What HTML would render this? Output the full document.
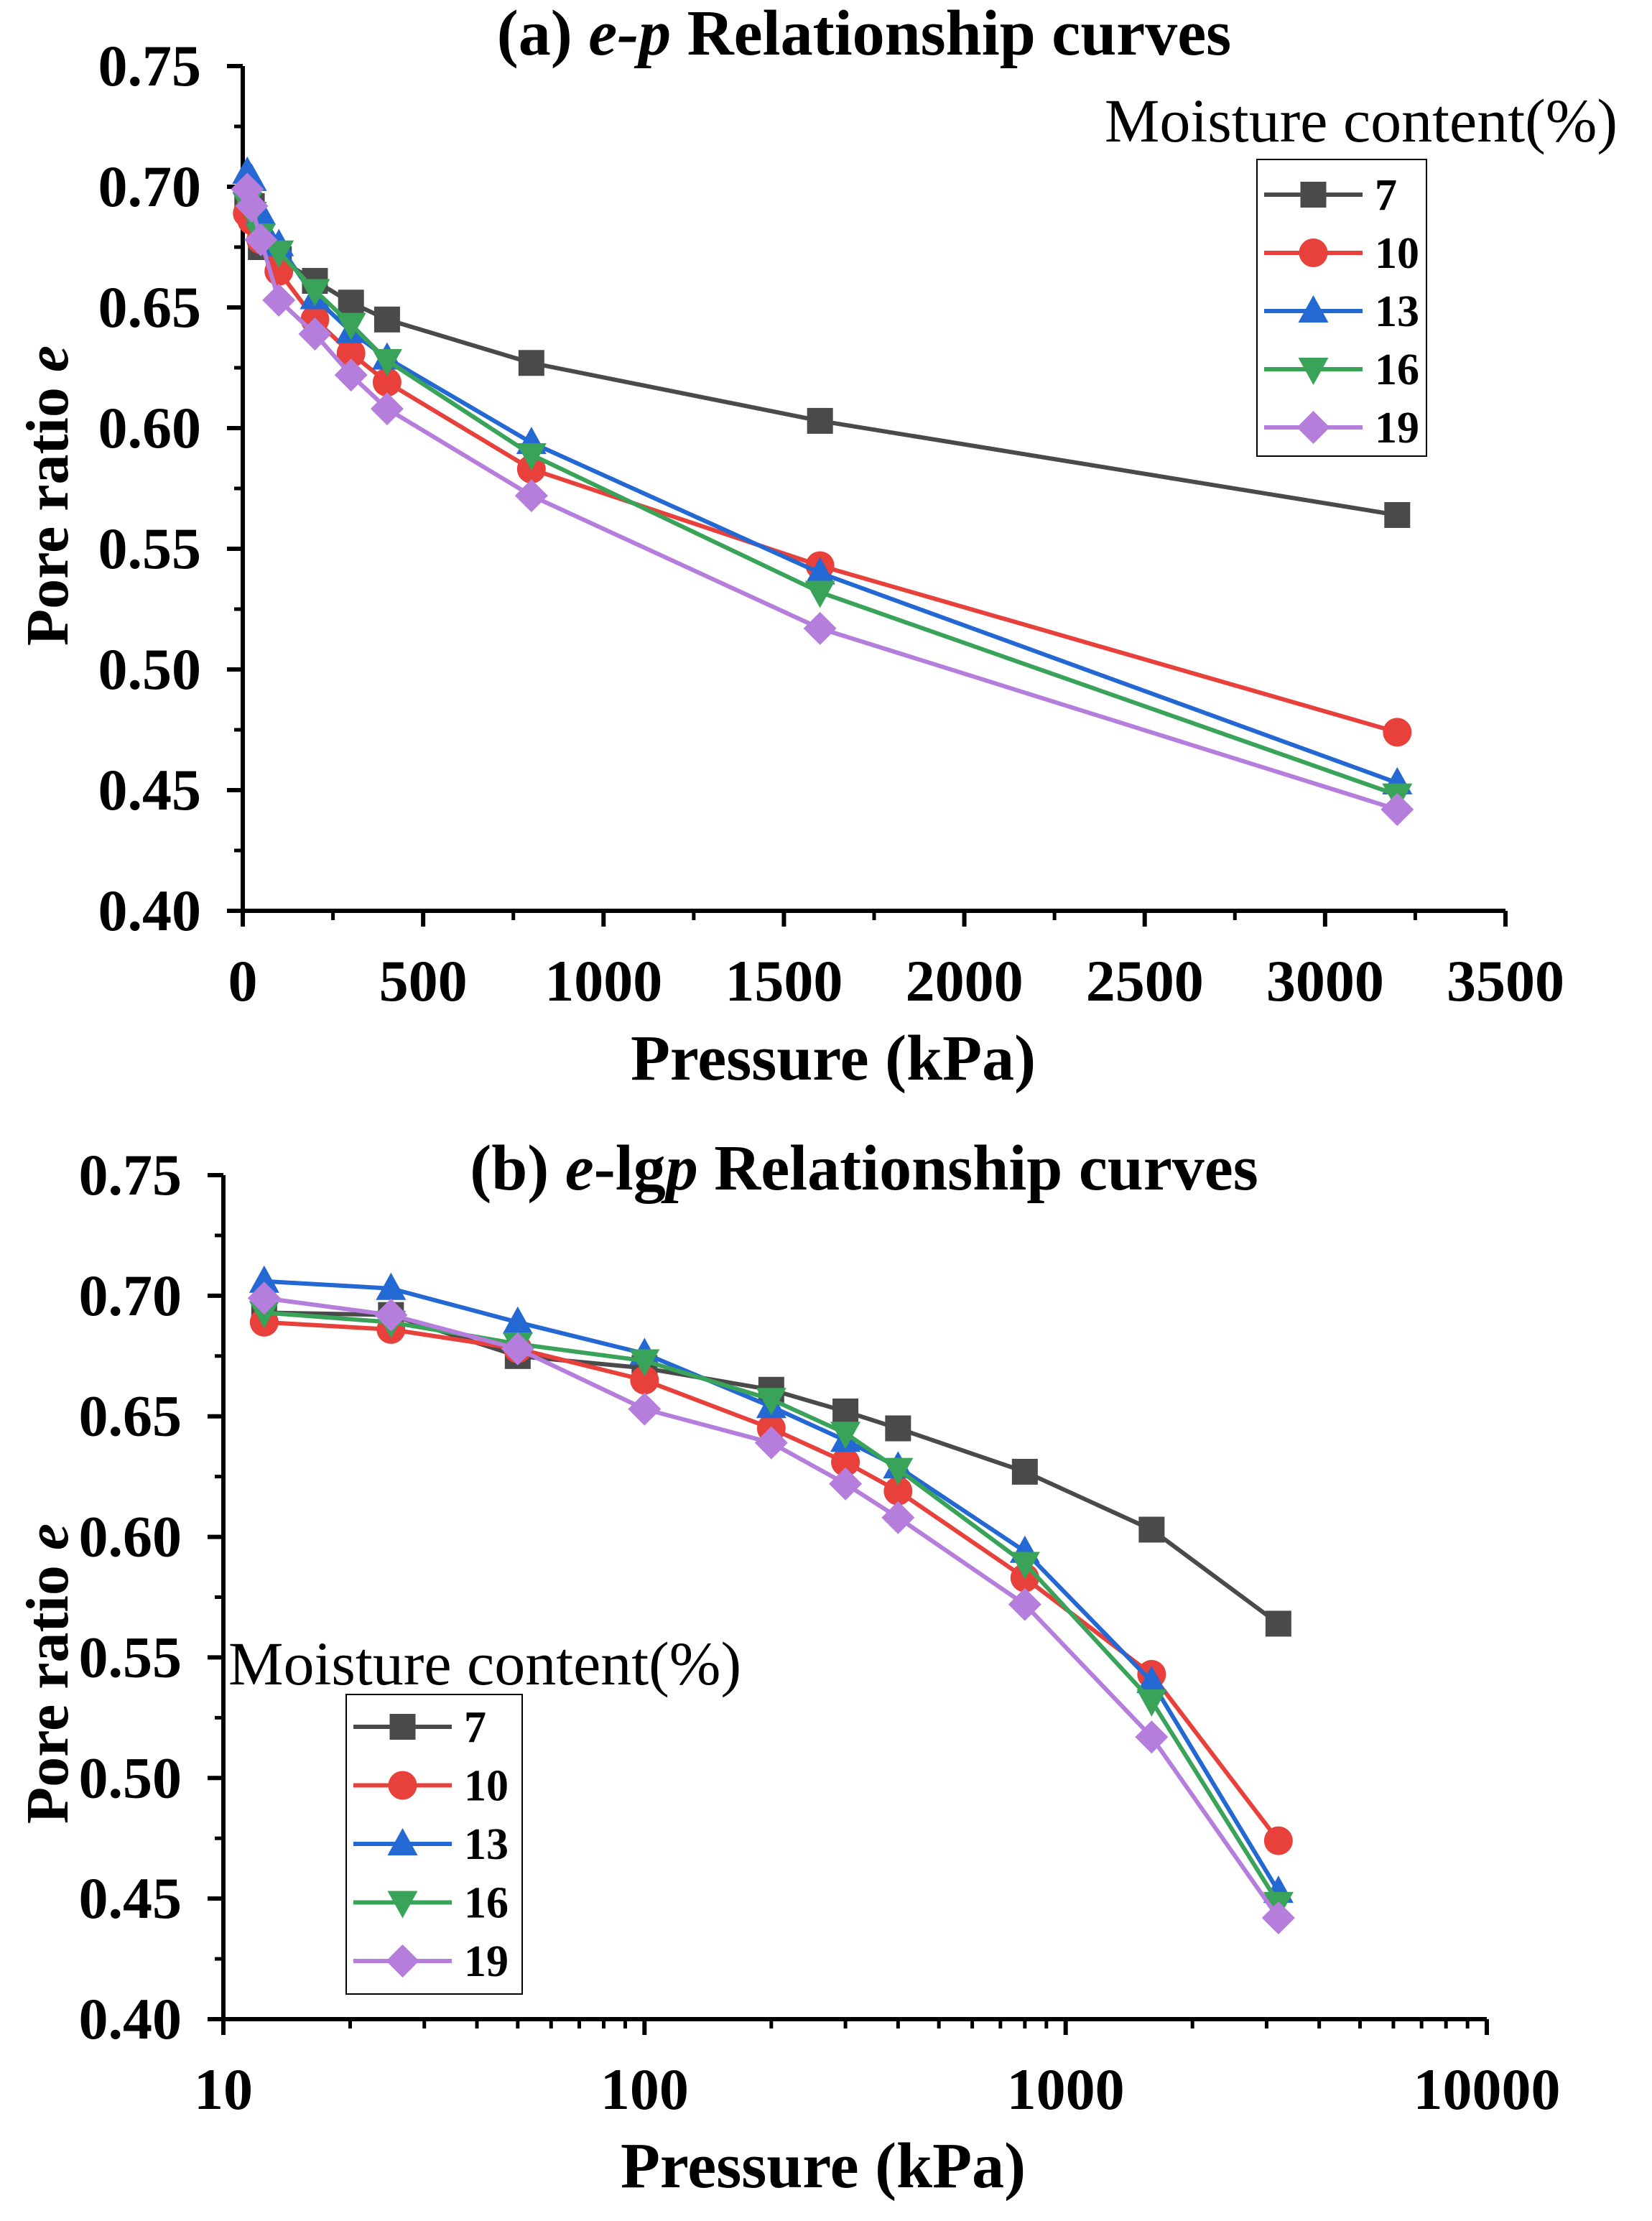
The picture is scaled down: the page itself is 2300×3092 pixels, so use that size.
<!DOCTYPE html>
<html><head><meta charset="utf-8">
<style>
html,body{margin:0;padding:0;background:#fff;}
svg{display:block;}
text{font-family:"Liberation Serif","DejaVu Serif",serif;}
</style></head>
<body>
<svg id="fig" width="2300" height="3092" xmlns="http://www.w3.org/2000/svg"></svg>
<script>
const pressures = [12.5, 25, 50, 100, 200, 300, 400, 800, 1600, 3200];
const seriesNames = ["7", "10", "13", "16", "19"];
const e7  = [0.693, 0.692, 0.675, 0.670, 0.661, 0.652, 0.645, 0.627, 0.603, 0.564];
const e10 = [0.689, 0.686, 0.678, 0.665, 0.645, 0.631, 0.619, 0.583, 0.543, 0.474];
const e13 = [0.706, 0.703, 0.689, 0.676, 0.654, 0.640, 0.629, 0.594, 0.540, 0.453];
const e16 = [0.693, 0.689, 0.680, 0.673, 0.657, 0.643, 0.628, 0.589, 0.532, 0.448];
const e19 = [0.699, 0.692, 0.678, 0.653, 0.639, 0.622, 0.608, 0.572, 0.517, 0.442];
const yTicks = [0.40, 0.45, 0.50, 0.55, 0.60, 0.65, 0.70, 0.75];
const xTicksLin = [0, 500, 1000, 1500, 2000, 2500, 3000, 3500];
const xTicksLog = [10, 100, 1000, 10000];

const allSeries = [e7, e10, e13, e16, e19];
const colors = ["#4a4a4a", "#e8403a", "#2468d4", "#3aa35a", "#b57ddc"];
const shapes = ["square", "circle", "up", "down", "diamond"];
const NS = "http://www.w3.org/2000/svg";
const svg = document.getElementById("fig");

function mk(tag, attrs, parent) {
  const el = document.createElementNS(NS, tag);
  for (const k in attrs) el.setAttribute(k, attrs[k]);
  (parent || svg).appendChild(el);
  return el;
}
function txt(s, attrs, parent) { const t = mk("text", attrs, parent); t.textContent = s; return t; }

function marker(shape, cx, cy, color, g) {
  let el;
  if (shape === "square") el = mk("rect", {x: cx - 18, y: cy - 18, width: 36, height: 36, fill: color}, g);
  else if (shape === "circle") el = mk("circle", {cx: cx, cy: cy, r: 20, fill: color}, g);
  else if (shape === "up") el = mk("polygon", {points: `${cx},${cy - 22} ${cx - 21},${cy + 16} ${cx + 21},${cy + 16}`, fill: color}, g);
  else if (shape === "down") el = mk("polygon", {points: `${cx},${cy + 22} ${cx - 21},${cy - 16} ${cx + 21},${cy - 16}`, fill: color}, g);
  else el = mk("polygon", {points: `${cx},${cy - 23} ${cx + 23},${cy} ${cx},${cy + 23} ${cx - 23},${cy}`, fill: color}, g);
  
  
  return el;
}

function drawPanel(cfg) {
  const g = mk("g", {});
  
  
  const {x0, x1, y0, y1} = cfg;
  const yScale = v => y1 - (v - 0.40) / (0.75 - 0.40) * (y1 - y0);
  const xScale = cfg.xScale;
  const t = txt("", {x: 1203, y: cfg.titleY, "font-size": 90, "font-weight": "bold", "text-anchor": "middle"}, g);
  
  
  cfg.title.forEach(p => { const ts = mk("tspan", p.it ? {"font-style": "italic"} : {}, t); ts.textContent = p.s; });
  const ax = mk("path", {d: `M${x0},${y0} L${x0},${y1} L${x1},${y1}`, stroke: "#000", "stroke-width": 6, fill: "none"}, g);
  
  
  yTicks.forEach((v, i) => {
    const y = yScale(v);
    mk("line", {x1: x0 - 22, x2: x0, y1: y, y2: y, stroke: "#000", "stroke-width": 6}, g);
    if (i < yTicks.length - 1) { const ym = yScale(v + 0.025); mk("line", {x1: x0 - 12, x2: x0, y1: ym, y2: ym, stroke: "#000", "stroke-width": 5}, g); }
    const l = txt(v.toFixed(2), {x: x0 - 58, y: y + 27, "font-size": 82, "font-weight": "bold", "text-anchor": "end"}, g);
    
    
  });
  cfg.xTicks.forEach(v => {
    const x = xScale(v);
    mk("line", {x1: x, x2: x, y1: y1, y2: y1 + 22, stroke: "#000", "stroke-width": 6}, g);
    const l = txt(String(v), {x: x, y: y1 + 125, "font-size": 82, "font-weight": "bold", "text-anchor": "middle"}, g);
    
    
  });
  cfg.minorX.forEach(v => { const x = xScale(v); mk("line", {x1: x, x2: x, y1: y1, y2: y1 + 13, stroke: "#000", "stroke-width": 5}, g); });
  const xl = txt("Pressure (kPa)", {x: cfg.xLabelX, y: cfg.xLabelY, "font-size": 90, "font-weight": "bold", "text-anchor": "middle"}, g);
  
  
  const yl = txt("", {x: 0, y: 0, "font-size": 84, "font-weight": "bold", "text-anchor": "middle", transform: `translate(94,${cfg.yLabelY}) rotate(-90)`}, g);
  
  
  const a = mk("tspan", {}, yl); a.textContent = "Pore ratio ";
  const b = mk("tspan", {"font-style": "italic"}, yl); b.textContent = "e";
  allSeries.forEach((vals, si) => {
    const sg = mk("g", {}, g);
    
    
    const pts = vals.map((v, i) => `${xScale(pressures[i]).toFixed(1)},${yScale(v).toFixed(1)}`).join(" ");
    const pl = mk("polyline", {points: pts, fill: "none", stroke: colors[si], "stroke-width": 6}, sg);
    
    
    vals.forEach((v, i) => marker(shapes[si], xScale(pressures[i]), yScale(v), colors[si], sg));
  });
  const L = cfg.legend;
  const lg = mk("g", {}, g);
  
  
  const lt = txt("Moisture content(%)", {x: L.titleX, y: L.titleY, "font-size": 86, "text-anchor": L.anchor}, lg);
  
  
  mk("rect", {x: L.bx, y: L.by, width: L.bw, height: L.bh, fill: "none", stroke: "#000", "stroke-width": 2}, lg);
  seriesNames.forEach((n, si) => {
    const y = L.y0 + si * L.dy;
    const eg = mk("g", {}, lg);
    
    
    mk("line", {x1: L.lx1, x2: L.lx2, y1: y, y2: y, stroke: colors[si], "stroke-width": 6}, eg);
    marker(shapes[si], (L.lx1 + L.lx2) / 2, y, colors[si], eg);
    txt(n, {x: L.tx, y: y + 21, "font-size": 62, "font-weight": "bold"}, eg);
  });
}

const ax0 = 338, ax1 = 2096;
const minorLin = [];
for (let v = 250; v < 3500; v += 500) minorLin.push(v);
drawPanel({
  name: "panel-a-e-p", x0: ax0, x1: ax1, y0: 92, y1: 1268,
  xScale: v => ax0 + v / 3500 * (ax1 - ax0),
  xTicks: xTicksLin, minorX: minorLin,
  title: [{s: "(a) "}, {s: "e-p", it: true}, {s: " Relationship curves"}], titleY: 76,
  xLabelX: 1160, xLabelY: 1503, yLabelY: 690,
  legend: {titleX: 2252, titleY: 197, anchor: "end", bx: 1750, by: 222, bw: 236, bh: 413,
           y0: 271, dy: 81, lx1: 1760, lx2: 1897, tx: 1914}
});

const bx0 = 311, bx1 = 2070;
const minorLog = [];
[10, 100, 1000].forEach(d => { for (let k = 2; k <= 9; k++) minorLog.push(d * k); });
drawPanel({
  name: "panel-b-e-lgp", x0: bx0, x1: bx1, y0: 1636, y1: 2811,
  xScale: v => bx0 + (Math.log10(v) - 1) / 3 * (bx1 - bx0),
  xTicks: xTicksLog, minorX: minorLog,
  title: [{s: "(b) "}, {s: "e", it: true}, {s: "-lg"}, {s: "p", it: true}, {s: " Relationship curves"}], titleY: 1656,
  xLabelX: 1146, xLabelY: 3045, yLabelY: 2330,
  legend: {titleX: 318, titleY: 2345, anchor: "start", bx: 482, by: 2359, bw: 245, bh: 417,
           y0: 2404, dy: 81.5, lx1: 492, lx2: 629, tx: 646}
});
</script>
</body></html>
